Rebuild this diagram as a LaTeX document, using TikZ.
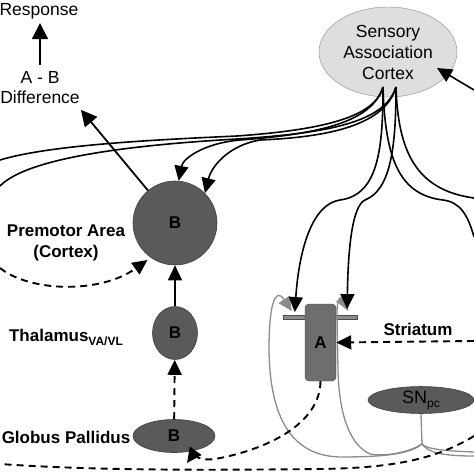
\documentclass[tikz,border=0pt]{standalone}
\usepackage{fontspec}
\setmainfont{Liberation Sans}
\usetikzlibrary{arrows.meta,shapes.geometric,calc}
\definecolor{dk}{HTML}{5A5A5A}
\definecolor{ak}{HTML}{6E6E6E}
\definecolor{lg}{HTML}{DEDEDE}
\definecolor{ln}{HTML}{8C8C8C}
\begin{document}
\begin{tikzpicture}[x=1pt,y=-1pt,
  reg/.style={font=\fontsize{17.5}{20}\selectfont, align=center, inner sep=1pt},
  bld/.style={font=\fontsize{17}{21}\selectfont\bfseries, align=center, inner sep=1pt},
  dknode/.style={draw=black!75, fill=dk, line width=0.6pt, inner sep=0pt, font=\fontsize{17}{17}\selectfont\bfseries},
  conn/.style={line width=1.6pt, -{Triangle[length=15pt,width=14pt]}},
  bigconn/.style={line width=1.8pt, -{Triangle[length=16pt,width=16pt]}},
  dashconn/.style={line width=1.9pt, dash pattern=on 7pt off 5pt, -{Triangle[length=15pt,width=14pt]}},
  dashline/.style={line width=1.9pt, dash pattern=on 7pt off 5pt},
  wire/.style={line width=1.6pt},
  gwire/.style={draw=ln, line width=1.3pt},
  gconn/.style={draw=ln, line width=1.3pt, -{Triangle[length=14pt,width=13pt]}}
]
\useasboundingbox (0,0) rectangle (474,474);
\fill[white] (0,0) rectangle (474,474);
\clip (0,0) rectangle (474,474);

% free ends at the picture edges
\coordinate (rsens) at (474,90);
\coordinate (eL1) at (0,160);
\coordinate (eL2) at (0,186);
\coordinate (eL3) at (0,268);
\coordinate (eL4) at (0,464);
\coordinate (eR1) at (474,198);
\coordinate (eR2) at (474,237);
\coordinate (eR3) at (474,436);
\coordinate (eR4) at (474,456);
\coordinate (eR5) at (474,452);
\coordinate (rstr) at (474,341);
\coordinate (jn) at (422,444);

% nodes
\node[reg] (resp) at (39,11) {Response};
\node[reg] (abd) at (40,87.5) {A - B\\Difference};
\node[draw=ln, fill=lg, ellipse, minimum width=138pt, minimum height=90pt, inner sep=0pt,
      font=\fontsize{17.5}{21}\selectfont, align=center] (sens) at (388,52) {Sensory\\Association\\Cortex};
\node[dknode, circle, minimum size=84pt] (pm) at (175,223) {B};
\node[dknode, ellipse, minimum width=45pt, minimum height=53pt] (th) at (175,333) {B};
\node[dknode, ellipse, minimum width=82pt, minimum height=33pt] (gp) at (174,436) {B};
\node[draw=black!70, fill=ln, minimum width=74pt, minimum height=3.5pt, inner sep=0pt] (bar) at (320,317) {};
\node[draw=black!75, fill=ak, rounded corners=4pt, minimum width=31pt, minimum height=77pt, inner sep=0pt,
      font=\fontsize{17}{17}\selectfont\bfseries] (sa) at (320.5,342.5) {A};
\node[dknode, ellipse, minimum width=106pt, minimum height=26pt, font=\fontsize{18}{18}\selectfont]
      (sn) at (421,400) {SN\raisebox{-4pt}{\fontsize{12}{12}\selectfont pc}};

\node[bld] (pml) at (66,243) {Premotor Area\\(Cortex)};
\node[bld] (thl) at (66,337) {Thalamus\raisebox{-4pt}{\fontsize{12}{12}\selectfont VA/VL}};
\node[bld] (gpl) at (66,437) {Globus Pallidus};
\node[bld] (stl) at (418,329) {Striatum};

% helper coordinates on nodes
\coordinate (sA) at ($(sens.center)+(-5,35)$);
\coordinate (sB) at ($(sens.center)+(8,35)$);
\coordinate (barL) at ($(bar.north west)+(12,-3)$);
\coordinate (barR) at ($(bar.north east)+(-10,-6)$);
\coordinate (gL) at ($(bar.north west)+(9,-4)$);
\coordinate (gR) at ($(bar.north east)+(-9,-4)$);
\coordinate (gpin) at ($(gp.center)+(13,27)$);

% gray loops (drawn first)
\draw[gwire] (sn.south) -- (jn);
\draw[gconn] (jn) .. controls (412,452) and (395,457) .. (340,457)
  .. controls (300,456) and (270,430) .. (269,350)
  .. controls (269,305) and (275,286) .. (gL);
\draw[gconn] (jn) .. controls (410,452) and (385,457) .. (370,454)
  .. controls (350,445) and (339,415) .. (338,370) -- (337,312)
  .. controls (337,298) and (341,296) .. (gR);
\draw[gwire] (jn) .. controls (428,452) and (440,456) .. (eR4);
\draw[gwire] (jn) .. controls (426,449) and (445,451) .. (eR5);

% response arrows
\draw[bigconn, shorten <=5pt, shorten >=3pt] (abd.north) -- (abd.north |- resp.south);
\draw[bigconn] (pm) -- ($(abd.south east)+(0,5)$);

% arrow into sensory cortex
\draw[conn] (rsens) -- ($(sens.center)+(49,16)$);

% cortex projections
\draw[wire] (sA) .. controls (375,118) and (320,130) .. (237,136) .. controls (150,140) and (50,145) .. (eL1);
\draw[wire] (sB) .. controls (385,122) and (330,133) .. (237,139) .. controls (150,144) and (30,155) .. (eL2);
\draw[conn] (sA) .. controls (372,122) and (320,134) .. (240,140) .. controls (205,143) and (183,158) .. (pm.85);
\draw[conn] (sB) .. controls (385,125) and (330,137) .. (260,140) .. controls (230,145) and (212,165) .. (pm.45);
\draw[conn] (sA) .. controls (383,150) and (378,195) .. (340,200) .. controls (312,204) and (299,250) .. (barL);
\draw[conn] (sB) .. controls (396,150) and (390,190) .. (365,200) .. controls (352,206) and (348,250) .. (barR);
\draw[wire] (sA) .. controls (385,160) and (400,195) .. (443,200) .. controls (460,202) and (468,215) .. (eR2);
\draw[wire] (sB) .. controls (398,150) and (415,190) .. (eR1);

% loop connections
\draw[conn] (th) -- (pm);
\draw[dashconn] (gp) -- (th);
\draw[dashconn] (rstr) -- (sa.east);
\draw[dashconn, shorten >=4pt] (eL3) .. controls (30,292) and (100,294) .. (pm.235);
\draw[dashconn] (sa.south) .. controls (320,425) and (265,450) .. (215,459) .. controls (200,461) and (192,456) .. (gpin);
\draw[dashline] (eR3) .. controls (435,460) and (390,468) .. (320,469) .. controls (220,470) and (100,471) .. (eL4);
\end{tikzpicture}
\end{document}
